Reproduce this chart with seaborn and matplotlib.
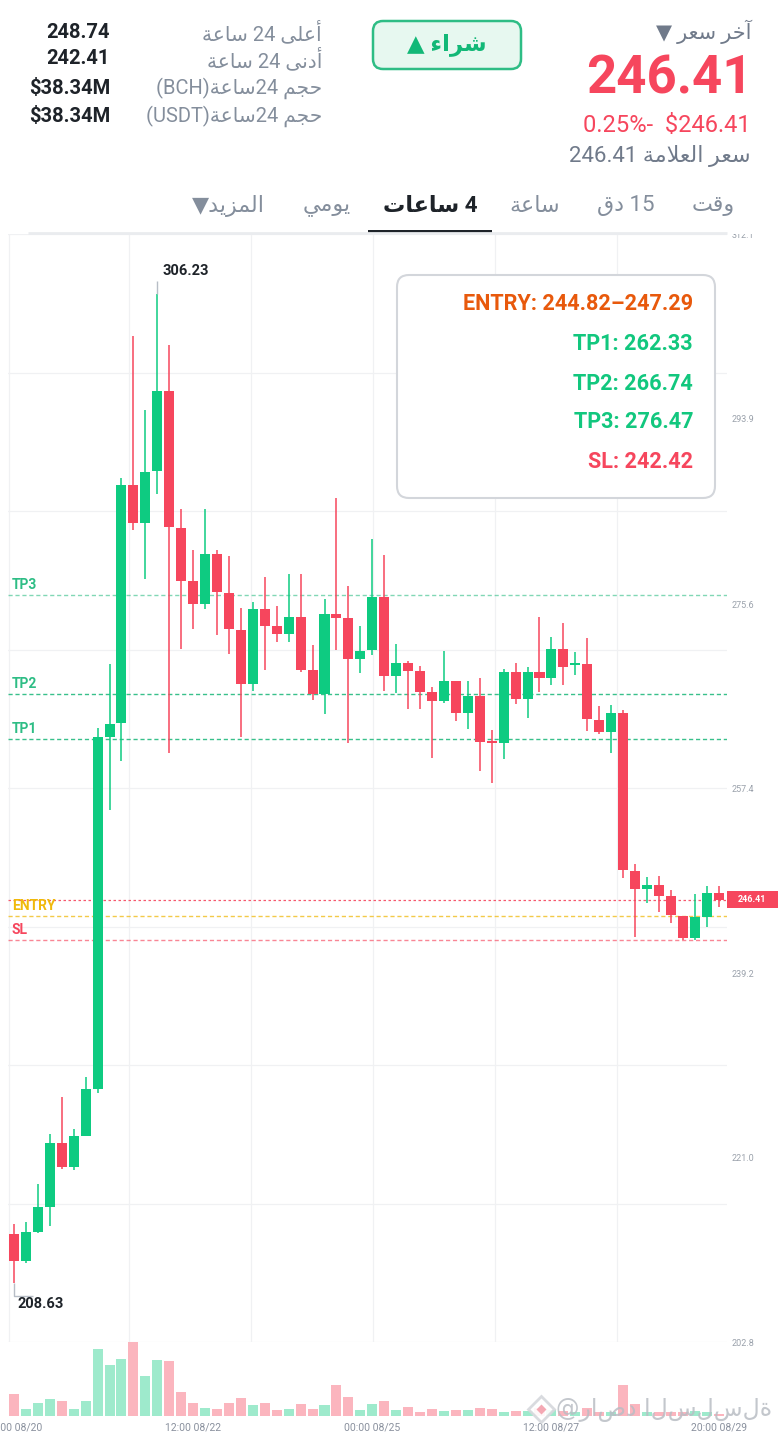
import re
import numpy as np
import pandas as pd
import matplotlib
matplotlib.use("Agg")
import matplotlib.pyplot as plt
from matplotlib.patches import FancyBboxPatch, Rectangle
import seaborn as sns

# BCH/USDT 4h candles, 00:00 08/20 -> 20:00 08/29
opens = [213.48, 210.76, 213.65, 216.15, 222.40, 220.10, 223.12, 227.76, 262.51, 263.83,
         287.34, 283.62, 288.75, 296.58, 283.10, 277.87, 275.63, 280.54, 276.69, 273.04,
         267.68, 275.08, 273.46, 272.64, 274.32, 269.09, 266.69, 274.62, 274.25, 270.15,
         271.07, 276.32, 268.50, 269.78, 268.99, 266.92, 266.07, 268.01, 264.88, 266.53,
         262.00, 261.86, 268.87, 266.23, 268.87, 268.33, 271.16, 269.60, 269.65, 264.16,
         263.00, 264.88, 249.29, 247.52, 247.91, 246.80, 244.82, 242.65, 244.70, 247.09]
highs = [214.44, 214.67, 218.39, 223.35, 226.97, 223.78, 228.91, 263.40, 269.65, 288.03,
         302.01, 294.74, 306.23, 301.15, 284.97, 280.93, 284.97, 280.93, 280.37, 275.18,
         275.83, 278.24, 275.41, 278.53, 278.53, 271.56, 276.07, 286.09, 277.41, 273.46,
         282.02, 280.44, 271.66, 269.98, 269.52, 267.44, 270.97, 268.01, 268.01, 268.30,
         263.17, 269.19, 269.78, 269.36, 274.35, 272.32, 273.70, 270.90, 272.28, 265.51,
         265.64, 265.15, 249.92, 248.64, 248.77, 247.39, 244.82, 246.99, 247.78, 247.76]
lows = [208.63, 210.60, 213.60, 214.27, 219.90, 219.80, 223.10, 227.40, 255.25, 260.08,
        282.90, 278.04, 286.42, 260.93, 271.16, 273.10, 275.11, 272.55, 270.64, 262.51,
        267.02, 269.09, 271.89, 271.90, 268.86, 266.13, 264.72, 271.07, 261.86, 268.77,
        270.57, 267.05, 266.79, 265.21, 265.21, 260.44, 265.80, 264.09, 263.24, 259.13,
        257.90, 260.31, 265.74, 264.36, 266.89, 267.61, 267.58, 268.60, 263.10, 262.75,
        260.93, 248.60, 242.72, 246.14, 245.25, 244.16, 242.41, 242.50, 243.69, 245.74]
closes = [210.76, 213.65, 216.15, 222.40, 220.10, 223.12, 227.76, 262.51, 263.77, 287.34,
          283.62, 288.66, 296.58, 283.17, 277.87, 275.63, 280.54, 276.76, 273.10, 267.68,
          275.08, 273.46, 272.64, 274.32, 269.09, 266.69, 274.62, 274.25, 270.15, 271.00,
          276.32, 268.50, 269.78, 268.99, 266.92, 266.07, 268.01, 264.88, 266.53, 261.99,
          261.90, 268.87, 266.23, 268.87, 268.33, 271.16, 269.42, 269.70, 264.23, 263.00,
          264.88, 249.36, 247.52, 247.91, 246.80, 244.92, 242.65, 244.70, 247.09, 246.41]
volumes = [22.4, 6.7, 13.4, 16.7, 15.4, 6.7, 15.4, 66.7, 51.4, 56.7,
           74.0, 39.7, 56.4, 55.4, 23.7, 12.7, 8.4, 7.4, 12.7, 17.7,
           10.7, 12.7, 5.7, 7.4, 11.7, 7.0, 10.7, 31.4, 18.7, 6.4,
           12.0, 15.4, 5.7, 9.0, 4.0, 7.4, 5.0, 5.7, 6.4, 7.7,
           6.7, 3.7, 4.7, 4.7, 8.0, 6.0, 5.0, 4.0, 7.7, 4.0,
           4.0, 31.4, 12.4, 4.0, 4.0, 4.0, 4.0, 5.0, 4.0, 2.0]

x_tick_pos = [0, 15, 30, 45, 59]
x_tick_labels = ["00:00 08/20", "12:00 08/22", "00:00 08/25", "12:00 08/27", "20:00 08/29"]
y_ticks = [202.8, 221.0, 239.2, 257.4, 275.6, 293.9, 312.1]

last_price = 246.41
change_pct = -0.25
high_24h, low_24h = 248.74, 242.41
vol_bch, vol_usdt = "$38.34M", "$38.34M"
entry_low, entry_high = 244.82, 247.29
tp_levels = [262.33, 266.74, 276.47]
sl_level = 242.42

GREEN = "#0ecb81"
RED = "#f6465d"
YELLOW = "#f0b90b"
GRAY = "#848e9c"
DARK = "#1e2329"
GRID = "#f0f1f3"

# --- minimal Arabic shaping (matplotlib has no complex text layout) ---
AR_FORMS = {
    "ء": ("\uFE80", None, None, None),
    "آ": ("\uFE81", "\uFE82", None, None),
    "أ": ("\uFE83", "\uFE84", None, None),
    "ا": ("\uFE8D", "\uFE8E", None, None),
    "ة": ("\uFE93", "\uFE94", None, None),
    "ت": ("\uFE95", "\uFE96", "\uFE97", "\uFE98"),
    "ج": ("\uFE9D", "\uFE9E", "\uFE9F", "\uFEA0"),
    "ح": ("\uFEA1", "\uFEA2", "\uFEA3", "\uFEA4"),
    "خ": ("\uFEA5", "\uFEA6", "\uFEA7", "\uFEA8"),
    "د": ("\uFEA9", "\uFEAA", None, None),
    "ر": ("\uFEAD", "\uFEAE", None, None),
    "ز": ("\uFEAF", "\uFEB0", None, None),
    "س": ("\uFEB1", "\uFEB2", "\uFEB3", "\uFEB4"),
    "ش": ("\uFEB5", "\uFEB6", "\uFEB7", "\uFEB8"),
    "ص": ("\uFEB9", "\uFEBA", "\uFEBB", "\uFEBC"),
    "ع": ("\uFEC9", "\uFECA", "\uFECB", "\uFECC"),
    "ق": ("\uFED5", "\uFED6", "\uFED7", "\uFED8"),
    "ل": ("\uFEDD", "\uFEDE", "\uFEDF", "\uFEE0"),
    "م": ("\uFEE1", "\uFEE2", "\uFEE3", "\uFEE4"),
    "ن": ("\uFEE5", "\uFEE6", "\uFEE7", "\uFEE8"),
    "و": ("\uFEED", "\uFEEE", None, None),
    "ى": ("\uFEEF", "\uFEF0", None, None),
    "ي": ("\uFEF1", "\uFEF2", "\uFEF3", "\uFEF4"),
}
LAM_ALEF = {"ا": ("\uFEFB", "\uFEFC"), "أ": ("\uFEF7", "\uFEF8"), "آ": ("\uFEF5", "\uFEF6")}


def shape_word(word):
    out, i, joined = [], 0, False
    while i < len(word):
        ch = word[i]
        if ch == "ل" and i + 1 < len(word) and word[i + 1] in LAM_ALEF:
            out.append(LAM_ALEF[word[i + 1]][1 if joined else 0])
            joined = False
            i += 2
            continue
        iso, fin, ini, med = AR_FORMS[ch]
        nxt = word[i + 1] if i + 1 < len(word) else None
        links = ini is not None and nxt is not None and AR_FORMS[nxt][1] is not None
        if joined and links:
            out.append(med)
        elif joined:
            out.append(fin)
        elif links:
            out.append(ini)
        else:
            out.append(iso)
        joined = links
        i += 1
    return "".join(out)


def ar(text):
    # RTL paragraph: reverse run order, reverse glyphs inside Arabic runs
    tokens = re.findall(r"[\u0621-\u064A]+|\s+|[^\s\u0621-\u064A]+", text)
    vis = [shape_word(t)[::-1] if t[0] in AR_FORMS else t for t in tokens]
    return "".join(vis[::-1])


df = pd.DataFrame({"open": opens, "high": highs, "low": lows, "close": closes, "volume": volumes})
df["x"] = np.arange(len(df))
df["dir"] = np.where(df["close"] >= df["open"], "up", "down")
df["color"] = np.where(df["dir"] == "up", GREEN, RED)
df["body_lo"] = df[["open", "close"]].min(axis=1)
df["body_h"] = (df["close"] - df["open"]).abs().clip(lower=0.15)

sns.set_theme(style="white")
plt.rcParams["font.family"] = ["Roboto", "DejaVu Sans"]

W, H = 780, 1434
fig = plt.figure(figsize=(W / 100, H / 100), dpi=100)
fig.patch.set_facecolor("white")

ax = fig.add_axes([8 / W, 92 / H, 719 / W, 1108 / H])
axv = fig.add_axes([8 / W, 18 / H, 719 / W, 74 / H], sharex=ax)

xlim = (-0.5, 59.7)
ylim = (y_ticks[0], y_ticks[-1])
ax.set_xlim(*xlim)
ax.set_ylim(*ylim)
px_x = 719 / (xlim[1] - xlim[0])
px_y = 1108 / (ylim[1] - ylim[0])

# grid
for v in np.linspace(ylim[0], ylim[1], 9):
    ax.axhline(v, color=GRID, lw=0.9, zorder=0)
for col_px in [129, 251, 373, 495, 617]:
    ax.axvline(xlim[0] + (col_px - 8) / px_x, color=GRID, lw=0.9, zorder=0)
ax.axvline(xlim[0] + 0.05, color=GRID, lw=0.9, zorder=0)

# candles
ax.vlines(df["x"], df["low"], df["high"], colors=df["color"], lw=1.1, zorder=3)
ax.bar(df["x"], df["body_h"], bottom=df["body_lo"], width=0.84, color=df["color"], lw=0, zorder=4)

# level lines
ax.axhline(last_price, color=RED, lw=0.9, ls=(0, (2, 2)), alpha=0.9, zorder=2)
ax.axhline(entry_low, color=YELLOW, lw=1.0, ls=(0, (3, 2)), alpha=0.75, zorder=2)
ax.axhline(sl_level, color=RED, lw=1.0, ls=(0, (3, 2)), alpha=0.65, zorder=2)
for i, tp in enumerate(tp_levels):
    ax.axhline(tp, color="#2ebd85", lw=1.0, ls=(0, (3, 2)), alpha=0.6 if i == 2 else 0.95, zorder=2)

ytr = ax.get_yaxis_transform()
lbl_x = 4 / 719
for name, lvl, col in [("TP1", tp_levels[0], "#2ebd85"), ("TP2", tp_levels[1], "#2ebd85"),
                       ("TP3", tp_levels[2], "#2ebd85"), ("ENTRY", entry_low, YELLOW),
                       ("SL", sl_level, RED)]:
    ax.annotate(name, (lbl_x, lvl), xycoords=ytr, xytext=(0, 3), textcoords="offset pixels",
                ha="left", va="bottom", fontsize=10, fontweight="bold", color=col, zorder=6)

# extreme markers
i_hi = int(np.argmax(df["high"]))
i_lo = int(np.argmin(df["low"]))
hi, lo = df["high"][i_hi], df["low"][i_lo]
ax.vlines(i_hi, hi, hi + 13 / px_y, color="#b7bdc6", lw=1, zorder=3)
ax.annotate(f"{hi:.2f}", (i_hi, hi), xytext=(5, 23), textcoords="offset pixels",
            ha="left", va="center", fontsize=10.5, fontweight="bold", color=DARK)
ax.plot([i_lo, i_lo, i_lo + 19 / px_x], [lo, lo - 13 / px_y, lo - 13 / px_y],
        color="#b7bdc6", lw=1, zorder=3, solid_capstyle="butt")
ax.annotate(f"{lo:.2f}", (i_lo, lo), xytext=(4, -21), textcoords="offset pixels",
            ha="left", va="center", fontsize=10.5, fontweight="bold", color=DARK)

# last price tag
ax.add_patch(Rectangle((1.0, last_price - 8.5 / px_y), 51 / 719, 17 / px_y, transform=ytr,
                       facecolor=RED, edgecolor="none", clip_on=False, zorder=6))
ax.text(1.0 + 25 / 719, last_price, f"{last_price:.2f}", transform=ytr, ha="center", va="center",
        fontsize=6.5, fontweight="bold", color="white", clip_on=False, zorder=7)

ax.yaxis.tick_right()
ax.set_yticks(y_ticks)
ax.set_yticklabels([f"{v:.1f}" for v in y_ticks])
ax.tick_params(axis="y", length=0, pad=3, labelsize=6.5, labelcolor="#9aa1ab")
ax.tick_params(axis="x", length=0, labelbottom=False)
for s in ax.spines.values():
    s.set_visible(False)
ax.set_facecolor("none")

# volume
sns.barplot(data=df, x="x", y="volume", hue="dir", palette={"up": GREEN, "down": RED},
            dodge=False, native_scale=True, width=0.84, alpha=0.4, saturation=1,
            legend=False, ax=axv, linewidth=0)
axv.set_xlim(*xlim)
axv.set_ylim(0, max(volumes))
axv.set_yticks([])
axv.set_xticks(x_tick_pos)
axv.set_xticklabels(x_tick_labels)
axv.tick_params(axis="x", length=0, pad=5, labelsize=7.5, labelcolor="#8a919e")
axv.set_xlabel("")
axv.set_ylabel("")
for s in axv.spines.values():
    s.set_visible(False)
axv.set_facecolor("none")

# overlay in pixel coordinates
ov = fig.add_axes([0, 0, 1, 1], zorder=5)
ov.set_xlim(0, W)
ov.set_ylim(H, 0)
ov.axis("off")
ov.patch.set_alpha(0)
ov.add_patch(Rectangle((0, 0), W, 233.5, facecolor="white", edgecolor="none", zorder=0))

# header, right block
ov.text(751, 32, ar("آخر سعر ▼"), ha="right", va="center", fontsize=15, color="#707a8a")
ov.text(753, 79, f"{last_price:.2f}", ha="right", va="center", fontsize=38,
        fontweight="bold", color=RED)
ov.text(751, 126, f"{abs(change_pct):.2f}%-  ${last_price:.2f}", ha="right", va="center",
        fontsize=17, color=RED)
ov.text(751, 156, ar(f"سعر العلامة {last_price:.2f}"), ha="right", va="center",
        fontsize=16, color="#707a8a")

# buy button
ov.add_patch(FancyBboxPatch((373, 21), 148, 48, boxstyle="round,pad=0,rounding_size=10",
                            facecolor="#e7f8f0", edgecolor="#2ebd85", lw=1.8))
ov.text(447, 45, ar("شراء ▲"), ha="center", va="center", fontsize=16.5, fontweight="bold",
        color="#12b877")

# 24h stats
stats = [("أعلى 24 ساعة", f"{high_24h:.2f}"), ("أدنى 24 ساعة", f"{low_24h:.2f}"),
         ("حجم 24ساعة(BCH)", vol_bch), ("حجم 24ساعة(USDT)", vol_usdt)]
for (lab, val), y in zip(stats, [32, 59, 88, 116]):
    ov.text(322, y, ar(lab), ha="right", va="center", fontsize=14.5, color=GRAY)
    ov.text(110, y, val, ha="right", va="center", fontsize=14.5, fontweight="bold", color=DARK)

# tabs
tabs = [("وقت", 713, False), ("15 دق", 626, False), ("ساعة", 535, False),
        ("4 ساعات", 430, True), ("يومي", 327, False), ("المزيد▼", 228, False)]
for lab, x, sel in tabs:
    ov.text(x, 206, ar(lab), ha="center", va="center", fontsize=16,
            fontweight="bold" if sel else "normal", color=DARK if sel else GRAY)
ov.plot([28, 727], [232.5, 232.5], color="#eaecef", lw=2, solid_capstyle="butt")
ov.add_patch(Rectangle((368, 230), 124, 4, facecolor=DARK, edgecolor="none"))

# signal box
ov.add_patch(FancyBboxPatch((397, 275), 318, 223, boxstyle="round,pad=0,rounding_size=12",
                            facecolor="white", edgecolor="#d3d6db", lw=1.5))
box_lines = [(f"ENTRY: {entry_low:.2f}–{entry_high:.2f}", "#e8590c"),
             (f"TP1: {tp_levels[0]:.2f}", "#12c77e"),
             (f"TP2: {tp_levels[1]:.2f}", "#12c77e"),
             (f"TP3: {tp_levels[2]:.2f}", "#12c77e"),
             (f"SL: {sl_level:.2f}", RED)]
for (txt, col), y in zip(box_lines, [304, 344, 384, 422, 462]):
    ov.text(693, y, txt, ha="right", va="center", fontsize=15.6, fontweight="bold", color=col)

# watermark
ov.plot(541, 1409, marker="D", ms=13, mfc="white", mec="#d5d8dc", mew=2, alpha=0.9)
ov.plot(541, 1409, marker="D", ms=5, mfc="#f3a0ac", mec="none", alpha=0.9)
ov.text(772, 1410, "@راصد السلسلة", ha="right", va="center", fontsize=17,
        color="#b9bdc4", alpha=0.85, family="DejaVu Sans")

fig.savefig("out.png", dpi=100)
